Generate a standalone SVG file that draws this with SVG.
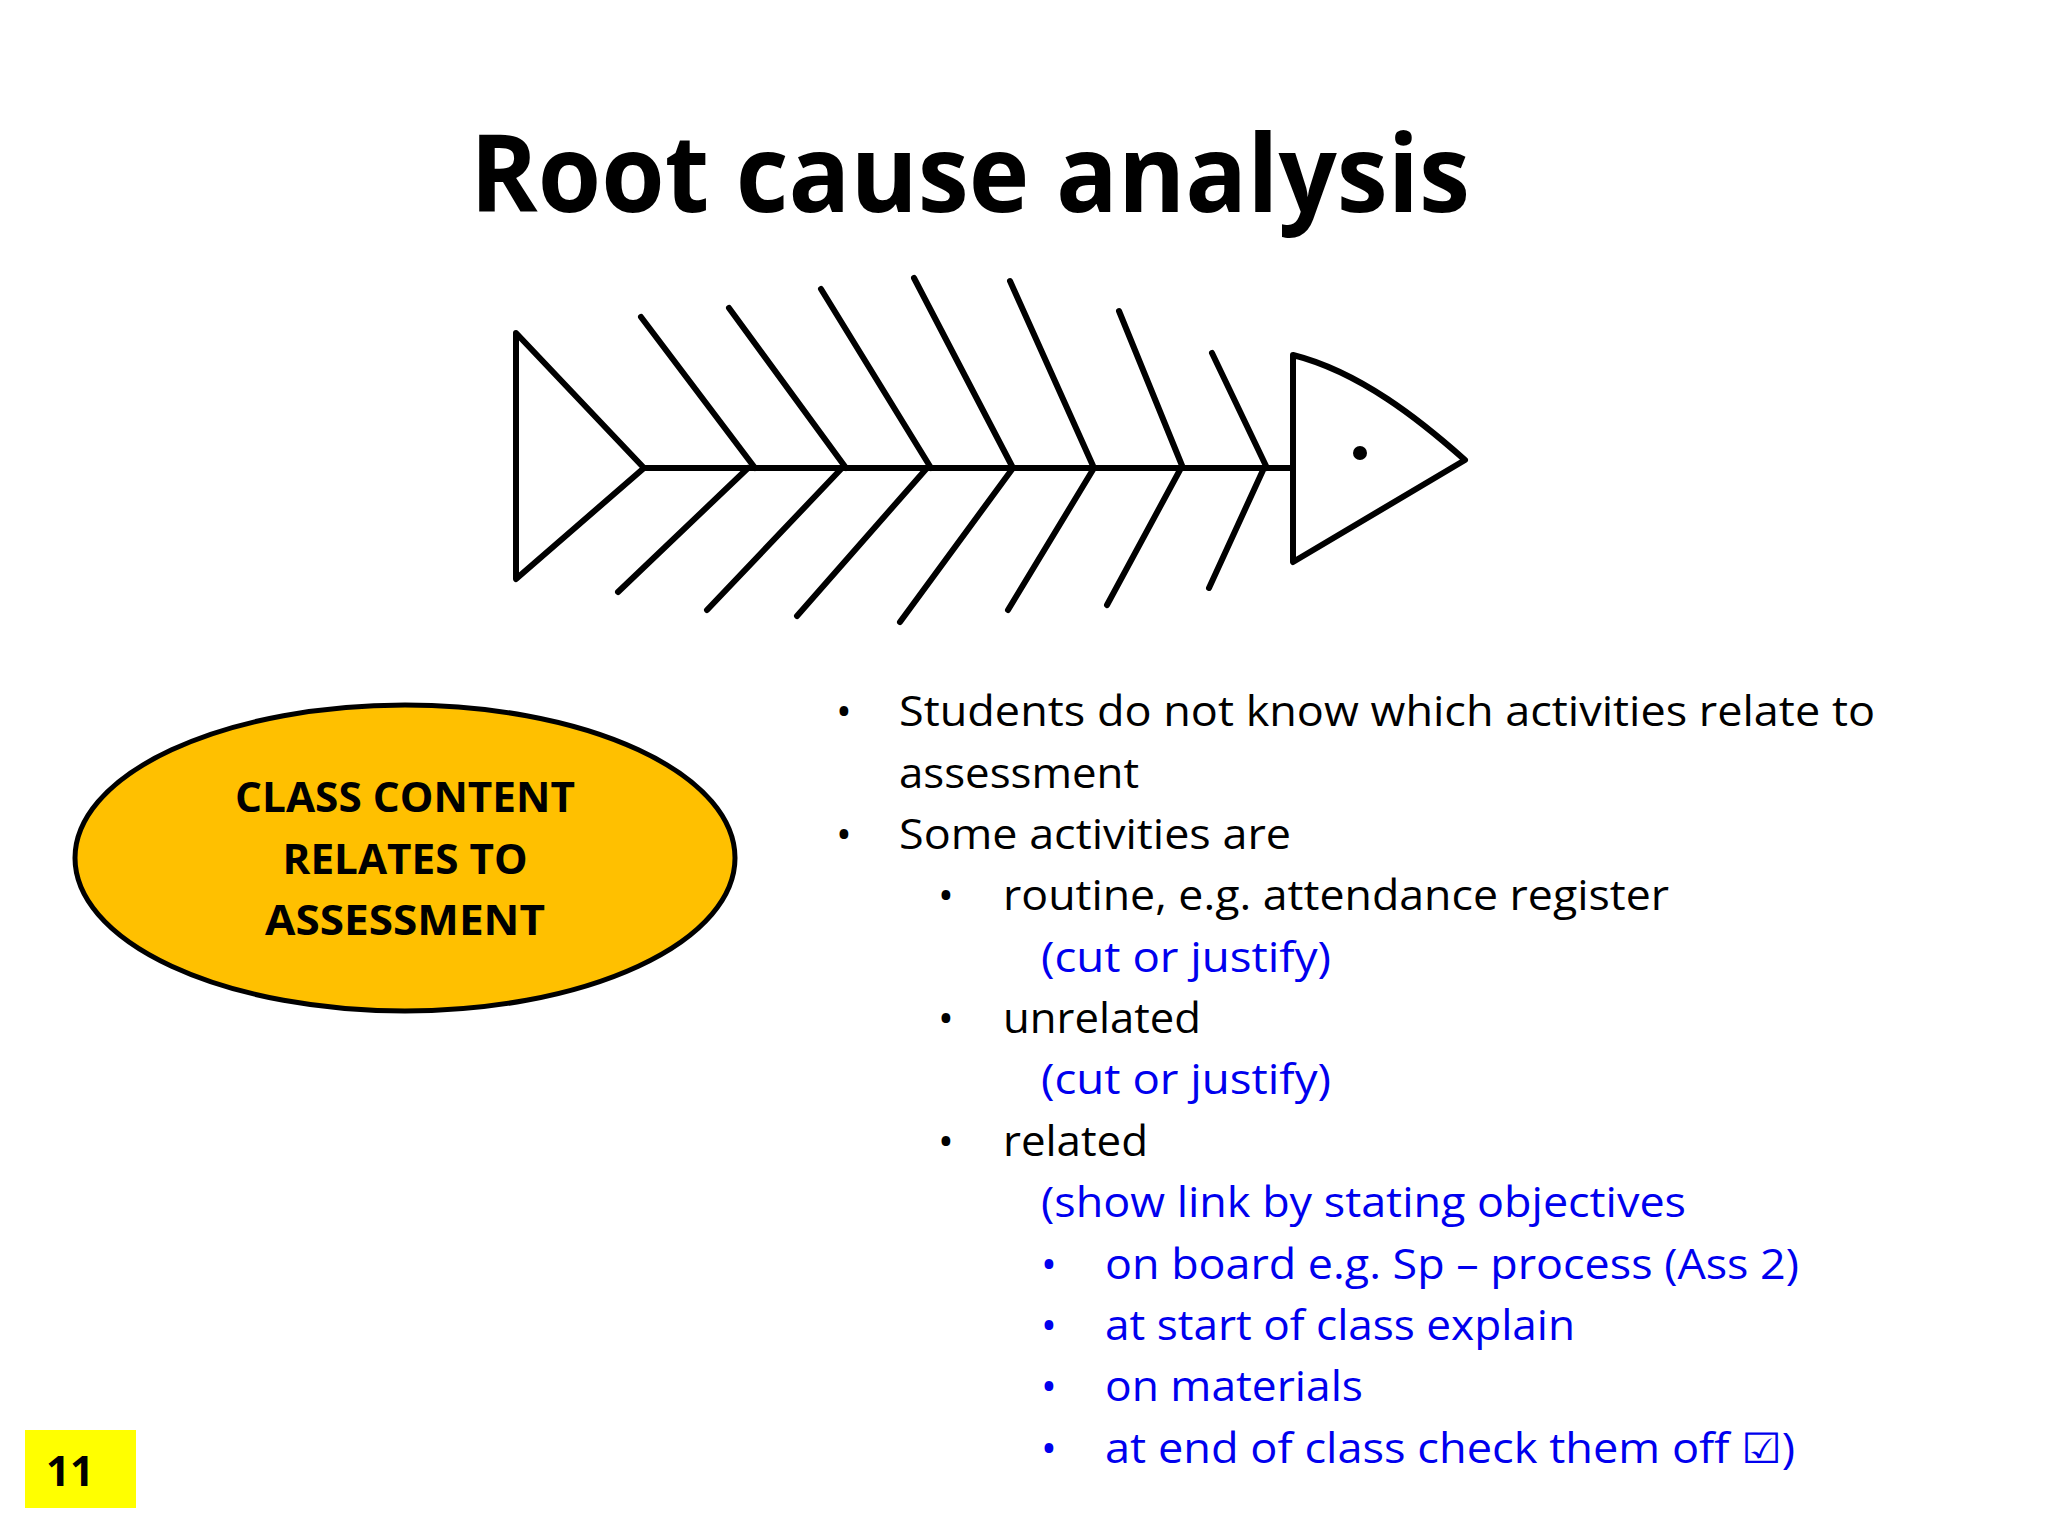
<svg xmlns="http://www.w3.org/2000/svg" width="2048" height="1536" viewBox="0 0 2048 1536">
<style>
.f{fill:none;stroke:#000;stroke-width:6;stroke-linecap:round;stroke-linejoin:round}
.t{font-family:"Open Sans","Liberation Sans",sans-serif;font-size:42px;fill:#000}
.b{fill:#0000EE}
</style>
<rect width="2048" height="1536" fill="#fff"/>
<text x="970" y="212" text-anchor="middle" font-family="'Open Sans','Liberation Sans',sans-serif" font-weight="bold" font-size="108" textLength="1000" lengthAdjust="spacingAndGlyphs">Root cause analysis</text>
<g id="fish">
<polygon class="f" points="516,333 644,468 516,579"/>
<line class="f" x1="644" y1="468" x2="1293" y2="468"/>
<path class="f" d="M1293,355 C1360,372 1420,420 1465,460 L1293,562 Z"/>
<circle cx="1360" cy="453" r="7" fill="#000"/>
<g id="bones">
<path class="f" d="M641,317L755,468M729,308L846,468M821,289L931,468M914,278L1013,468M1010,281L1094,468M1119,311L1183,468M1212,353L1267,468"/>
<path class="f" d="M618,592L748,468M707,610L842,468M797,616L927,468M900,622L1013,468M1008,610L1094,468M1107,605L1181,468M1209,588L1264,468"/>
</g>
</g>
<g id="ellipse">
<ellipse cx="405" cy="858" rx="330" ry="153" fill="#FFC000" stroke="#000" stroke-width="5"/>
<g font-family="'Open Sans','Liberation Sans',sans-serif" font-weight="bold" font-size="42" text-anchor="middle">
<text x="405" y="812" textLength="340" lengthAdjust="spacingAndGlyphs">CLASS CONTENT</text>
<text x="405" y="874" textLength="245" lengthAdjust="spacingAndGlyphs">RELATES TO</text>
<text x="405" y="935" textLength="280" lengthAdjust="spacingAndGlyphs">ASSESSMENT</text>
</g>
</g>
<g id="bullets" class="t">
<text x="836" y="726">•</text><text x="899" y="726" textLength="976" lengthAdjust="spacingAndGlyphs">Students do not know which activities relate to</text>
<text x="899" y="788" textLength="240" lengthAdjust="spacingAndGlyphs">assessment</text>
<text x="836" y="849">•</text><text x="899" y="849" textLength="392" lengthAdjust="spacingAndGlyphs">Some activities are</text>
<text x="938" y="910">•</text><text x="1003" y="910" textLength="666" lengthAdjust="spacingAndGlyphs">routine, e.g. attendance register</text>
<text class="b" x="1041" y="972" textLength="290" lengthAdjust="spacingAndGlyphs">(cut or justify)</text>
<text x="938" y="1033">•</text><text x="1003" y="1033" textLength="198" lengthAdjust="spacingAndGlyphs">unrelated</text>
<text class="b" x="1041" y="1094" textLength="290" lengthAdjust="spacingAndGlyphs">(cut or justify)</text>
<text x="938" y="1156">•</text><text x="1003" y="1156" textLength="145" lengthAdjust="spacingAndGlyphs">related</text>
<text class="b" x="1041" y="1217" textLength="645" lengthAdjust="spacingAndGlyphs">(show link by stating objectives</text>
<text class="b" x="1041" y="1279">•</text><text class="b" x="1105" y="1279" textLength="694" lengthAdjust="spacingAndGlyphs">on board e.g. Sp – process (Ass 2)</text>
<text class="b" x="1041" y="1340">•</text><text class="b" x="1105" y="1340" textLength="470" lengthAdjust="spacingAndGlyphs">at start of class explain</text>
<text class="b" x="1041" y="1401">•</text><text class="b" x="1105" y="1401" textLength="258" lengthAdjust="spacingAndGlyphs">on materials</text>
<text class="b" x="1041" y="1463">•</text><text class="b" x="1105" y="1463" textLength="690" lengthAdjust="spacingAndGlyphs">at end of class check them off <tspan font-family="'DejaVu Sans',sans-serif">☑</tspan>)</text>
</g>
<g id="page">
<rect x="25" y="1430" width="111" height="78" fill="#FFFF00"/>
<text x="46" y="1486" font-family="'Open Sans','Liberation Sans',sans-serif" font-weight="bold" font-size="42">11</text>
</g>
</svg>
